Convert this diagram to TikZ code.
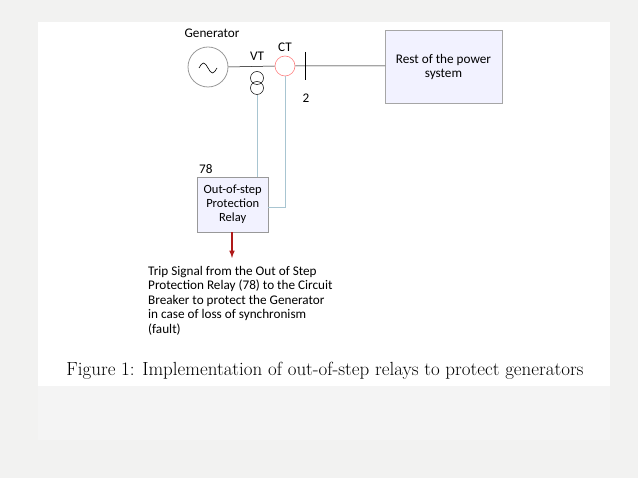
\documentclass[tikz,border=0pt]{standalone}
\usepackage{fontspec}
\newfontfamily\carl{Carlito}
\begin{document}
\begin{tikzpicture}[x=1pt,y=-1pt,
  lbl/.style={font=\carl\fontsize{13.2}{14.5}\selectfont,inner sep=0pt},
  sig/.style={draw=cyan!35!gray!60,line width=0.6pt}]
\useasboundingbox (0,0) rectangle (638,478);
\fill[black!6!yellow!4!gray!12] (0,0) rectangle (638,478);
\fill[black!4!gray!8] (38,386) rectangle (610,440);
\fill[white] (38,22) rectangle (610,386);
\node[draw=gray!80,line width=0.8pt,circle,minimum size=40pt,inner sep=0pt] (gen) at (208,67) {};
\draw[line width=0.6pt] (199,68) sin (203.5,63) cos (208,68) sin (212.5,73) cos (217,68);
\node[lbl,anchor=south] (genl) at (212,38) {Generator};
\node[draw=red!50,circle,minimum size=20pt,inner sep=0pt,line width=0.6pt] (ct) at (285,66) {};
\node[lbl,anchor=south] (ctl) at (285,52) {CT};
\node[draw,circle,minimum size=13pt,inner sep=0pt,line width=0.5pt] (vt1) at (257,78) {};
\node[draw,circle,minimum size=13pt,inner sep=0pt,line width=0.5pt] (vt2) at (257,88) {};
\node[lbl,anchor=south] (vtl) at (257,61) {VT};
\node[draw=gray!70,fill=blue!5,minimum width=117pt,minimum height=73pt,anchor=north west] (rest) at (385,30) {};
\node[lbl,align=center] (restl) at (443.5,67) {Rest of the power\\system};
\coordinate (b1) at (305,52); \coordinate (b2) at (305,80);
\draw[line width=0.6pt] (b1) -- (b2);
\node[lbl] (two) at (306,98) {2};
\draw[line width=0.5pt] (gen.east) -- (ct.west) (ct.east) -- (rest.west |- ct.east);
\node[draw=gray!80,fill=blue!5,minimum width=71pt,minimum height=55pt,lbl,align=center,anchor=north west,font=\carl\fontsize{12.5}{14}\selectfont] (relay) at (197,177) {Out-of-step\\Protection\\Relay};
\node[lbl,anchor=south west] (n78) at (199,174) {78};
\draw[sig] (vt2.south) -- (vt2.south |- relay.north);
\coordinate (c1) at (285,207);
\draw[sig] (ct.south) -- (c1) -- (c1 -| relay.east);
\coordinate (tip) at (232,258);
\draw[red!65!black!90,line width=1.5pt,-latex] (relay.south -| tip) -- (tip);
\node[lbl,anchor=north west,align=left] (trip) at (148,266) {Trip Signal from the Out of Step\\Protection Relay (78) to the Circuit\\Breaker to protect the Generator\\in case of loss of synchronism\\(fault)};
\node[font=\fontsize{19}{21}\selectfont,inner sep=0pt] (cap) at (325,371) {Figure 1: Implementation of out-of-step relays to protect generators};
\end{tikzpicture}
\end{document}
